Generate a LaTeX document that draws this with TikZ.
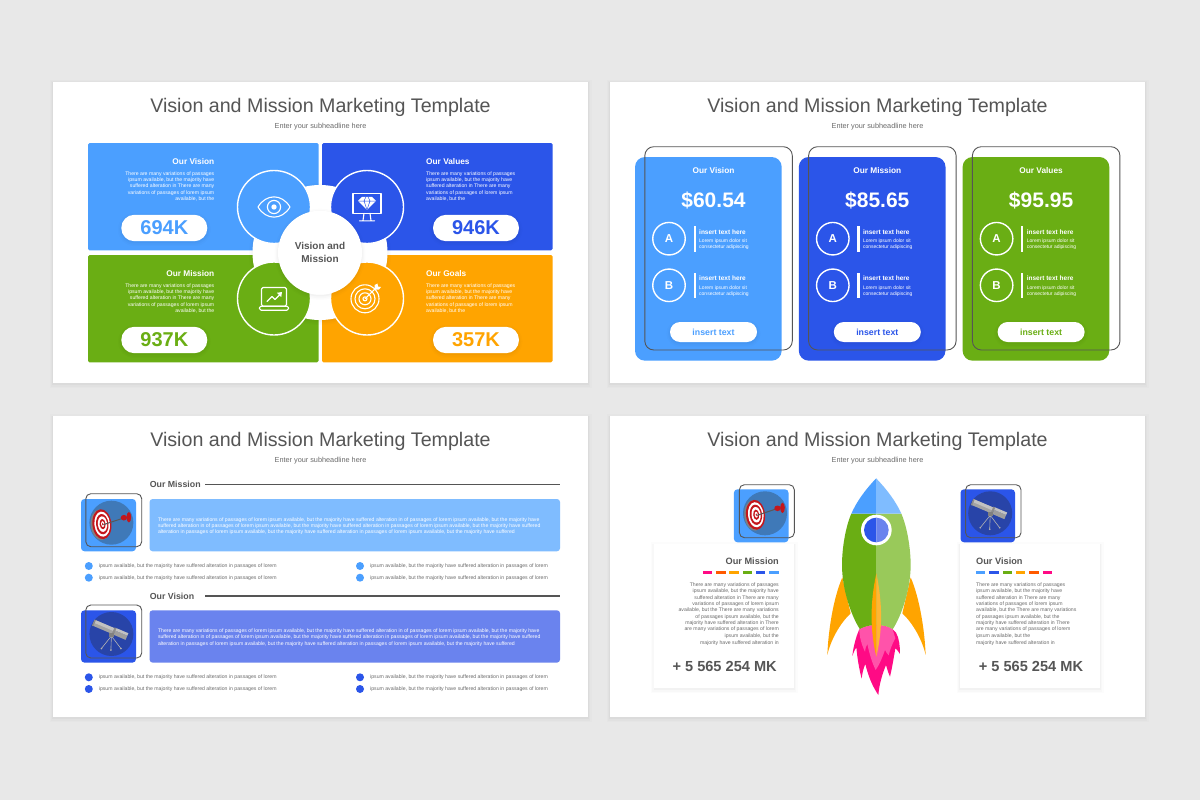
\documentclass[tikz,border=0pt]{standalone}
\usepackage{fontspec}
\setmainfont{Liberation Sans}

\definecolor{bluetile}{HTML}{4B9FFF}
\definecolor{royaltile}{HTML}{2B55E9}
\definecolor{greentile}{HTML}{6AAE14}
\definecolor{orangetile}{HTML}{FFA400}
\definecolor{lightblue}{HTML}{7FBCFF}
\definecolor{lightroyal}{HTML}{6A83EE}
\definecolor{lightgreen}{HTML}{99C95A}
\definecolor{pinkdash}{HTML}{FF0A85}
\definecolor{reddash}{HTML}{FF5A00}
\definecolor{greytext}{HTML}{555555}
\definecolor{bodygrey}{HTML}{6A6A6A}
\definecolor{dartred}{HTML}{C4161C}
\definecolor{dartdisk}{HTML}{3F79B8}
\definecolor{scopedisk}{HTML}{2844A8}

\newcommand{\tilelines}{There are many variations of passages\\ipsum available, but the majority have\\suffered alteration in There are many\\variations of passages of lorem ipsum\\available, but the}
\newcommand{\bandlines}{There are many variations of passages of lorem ipsum available, but the majority have suffered alteration in of passages of lorem ipsum available, but the majority have\\suffered alteration in of passages of lorem ipsum available, but the majority have suffered alteration in passages of lorem ipsum available, but the majority have suffered\\alteration in passages of lorem ipsum available, but the majority have suffered alteration in passages of lorem ipsum available, but the majority have suffered}
\newcommand{\bulletline}{ipsum available, but the majority have suffered alteration in passages of lorem}
\newcommand{\sidelines}{There are many variations of passages\\ipsum available, but the majority have\\suffered alteration in There are many\\variations of passages of lorem ipsum\\available, but the There are many variations\\of passages ipsum available, but the\\majority have suffered alteration in There\\are many variations of passages of lorem\\ipsum available, but the\\[.6pt]majority have suffered alteration in}

\tikzset{
    softshadow/.style={
        preaction={draw=black,draw opacity=.01,line width=7pt,transform canvas={yshift=-1.5pt}},
        preaction={draw=black,draw opacity=.016,line width=4pt,transform canvas={yshift=-1.5pt}},
        preaction={draw=black,draw opacity=.022,line width=1.5pt,transform canvas={yshift=-1pt}}},
    titletext/.style={font=\fontsize{19.65}{24}\selectfont,text=greytext,inner sep=0pt},
    subtext/.style={font=\fontsize{7.3}{9}\selectfont,text=bodygrey,inner sep=0pt},
    headtext/.style={font=\fontsize{8.3}{10}\selectfont\bfseries,text=white,inner sep=0pt},
    tinytext/.style={font=\fontsize{5.15}{6.36}\selectfont,text=white,inner sep=0pt},
    greytiny/.style={tinytext,text=bodygrey},
    numpill/.style={fill=white,rounded corners=13pt,minimum width=86pt,minimum height=26.4pt,
        inner sep=0pt,font=\fontsize{20}{22}\selectfont\bfseries,softshadow},
    textpill/.style={fill=white,rounded corners=10pt,minimum width=87pt,minimum height=20pt,
        inner sep=0pt,font=\fontsize{8.8}{11}\selectfont\bfseries,softshadow},
    letterring/.style={circle,draw=white,line width=1.4pt,minimum size=32.5pt,inner sep=0pt,
        text=white,font=\fontsize{11.5}{13}\selectfont\bfseries},
    outlinebox/.style={draw=greytext,line width=.9pt,rounded corners=9pt},
    iconline/.style={draw=white,line width=1.1pt,line join=round,line cap=round},
    eyeicon/.pic={
        \draw[iconline] (-16,0) .. controls (-8,-13.5) and (8,-13.5) .. (16,0)
            .. controls (8,13.5) and (-8,13.5) .. (-16,0) -- cycle;
        \draw[iconline] (0,0) circle (6.6);
        \fill[white] (0,0) circle (2.7);
    },
    gemicon/.pic={
        \draw[iconline] (-14,-13.7) rectangle (14,6.3);
        \draw[iconline] (-3,6.3) -- (-4,13.5) (3,6.3) -- (4,13.5) (-7.5,13.8) -- (7.5,13.8);
        \fill[white] (-5,-10.2) -- (5,-10.2) -- (9,-6) -- (0,2.8) -- (-9,-6) -- cycle;
        \draw[royaltile,line width=.5pt] (-9,-6) -- (9,-6) (-3,-6) -- (0,2.8) -- (3,-6)
            (-3,-6) -- (-1,-10.2) (3,-6) -- (1,-10.2);
    },
    laptopicon/.pic={
        \draw[iconline,rounded corners=1.5pt] (-12.5,-11) rectangle (12.5,7.7);
        \draw[iconline,rounded corners=1.5pt] (-14.5,7.7) rectangle (14.5,11.7);
        \draw[iconline] (-7,3) -- (-2,-2) -- (1,1) -- (6,-4);
        \fill[white] (8,-6.5) -- (7.2,-1.3) -- (2.8,-5.7) -- cycle;
    },
    ringicon/.pic={
        \draw[iconline] (-2,0.3) circle (14) (-2,0.3) circle (10) (-2,0.3) circle (6);
        \draw[iconline] (-2,0.3) circle (2);
        \draw[iconline] (-2,0.3) -- (9,-10.5);
        \fill[white] (7.5,-9) -- (7.5,-13.5) -- (10.5,-15) -- (11,-12) -- (14,-11.5) -- (12,-9) -- cycle;
    },
    dartpic/.pic={
        \fill[dartdisk] (0,0) circle (22);
        \begin{scope}[shift={(-9.5,1.5)},rotate=6]
            \fill[black!50] (-1.5,.5) ellipse (9.7 and 15.3);
            \fill[dartred] (0,0) ellipse (9.5 and 15);
            \fill[white] (.3,0) ellipse (7.8 and 12.6);
            \fill[dartred] (.4,0) ellipse (6.2 and 10.2);
            \fill[white] (.6,0) ellipse (4.6 and 7.8);
            \fill[dartred] (.7,0) ellipse (3 and 5.2);
            \fill[white] (.8,0) ellipse (1.6 and 3);
            \fill[dartred] (.8,0) ellipse (.7 and 1.3);
        \end{scope}
        \draw[black!65,line width=1pt] (-8,2) -- (11,-4.3);
        \fill[dartred] (12.5,-5) ellipse (3.2 and 2.8);
        \fill[dartred] (17.5,-5.5) ellipse (2.3 and 5.2);
    },
    scopepic/.pic={
        \fill[scopedisk] (0,0) circle (22);
        \draw[black!30,line width=.6pt] (0,2) -- (-10,14.5) (0,2) -- (-.5,16) (0,2) -- (9.5,14.5);
        \fill[black!30] (-10,14.5) circle (.9) (-.5,16) circle (.9) (9.5,14.5) circle (.9);
        \begin{scope}[shift={(-1,-4.5)},rotate=-23]
            \fill[black!36] (-18,-2.8) rectangle (5,3.4);
            \fill[black!24] (-18,-2.8) rectangle (5,.2);
            \fill[black!38] (5,-1) rectangle (18,3.6);
            \fill[black!24] (5,-3.6) rectangle (18,-1);
            \fill[black!45] (-18.5,-3) rectangle (-17,3.6);
            \fill[black!45] (3,-3.6) rectangle (5,3.9);
        \end{scope}
        \fill[black!50] (-2,-1) rectangle (2.5,3);
    },
}

\begin{document}
\begin{tikzpicture}[x=1pt,y=-1pt]
    \useasboundingbox (0,0) rectangle (1200,800);
    \fill[black!9] (0,0) rectangle (1200,800);

    % the four slides
    \foreach \px/\py/\pid in {53/82/a,610/82/b,53/416/c,610/416/d} {
        \fill[white,softshadow] (\px,\py) rectangle ++(535,301);
        \node[titletext] (title\pid) at (\px+267.5,\py+25.5) {Vision and Mission Marketing Template};
        \node[subtext] (sub\pid) at (\px+267.5,\py+44.3) {Enter your subheadline here};
    }

    % slide a
    \foreach \tx/\ty/\col/\tid in {88/143/bluetile/v,322/143/royaltile/u,88/255/greentile/m,322/255/orangetile/g}
        \fill[\col,rounded corners=1.5pt] (\tx,\ty) rectangle ++(230.5,107.3);
    \foreach \ty/\col/\head/\num/\tid in {143/bluetile/Our Vision/694K/v,255/greentile/Our Mission/937K/m} {
        \node[headtext,anchor=east] (head\tid) at (214.5,\ty+18.3) {\head};
        \node[tinytext,align=right,anchor=north east] (body\tid) at (214.5,\ty+28.2) {\tilelines};
        \node[numpill,text=\col] (num\tid) at (164.3,\ty+85) {\num};
    }
    \foreach \ty/\col/\head/\num/\tid in {143/royaltile/Our Values/946K/u,255/orangetile/Our Goals/357K/g} {
        \node[headtext,anchor=west] (head\tid) at (426,\ty+18.3) {\head};
        \node[tinytext,align=left,anchor=north west] (body\tid) at (426,\ty+28.2) {\tilelines};
        \node[numpill,text=\col] (num\tid) at (476,\ty+85) {\num};
    }
    \fill[white,softshadow] (320,252.5) circle (67.5);
    \foreach \cx/\cy/\col/\icon in {274/207/bluetile/eyeicon,367/207/royaltile/gemicon,
        274/298.5/greentile/laptopicon,367/298.5/orangetile/ringicon} {
        \draw[fill=\col,draw=white,line width=1.4pt] (\cx,\cy) circle (36.5);
        \pic at (\cx,\cy) {\icon};
    }
    \node[circle,fill=white,minimum size=84pt,inner sep=0pt,softshadow,align=center,text=greytext,
        font=\fontsize{10}{13}\selectfont\bfseries] (centre) at (320,252.7) {Vision and\\Mission};

    % slide b
    \foreach \sx/\cid/\col/\head/\price in {0/a/bluetile/Our Vision/\$60.54,
        163.8/b/royaltile/Our Mission/\$85.65,327.6/c/greentile/Our Values/\$95.95} {
        \begin{scope}[shift={(\sx,0)}]
            \fill[\col,rounded corners=10pt] (635,157) rectangle (781.7,360.7);
            \node[headtext] (cardhead\cid) at (713.5,171) {\head};
            \node[font=\fontsize{21}{23}\selectfont\bfseries,text=white,inner sep=0pt] (price\cid) at (713.5,200) {\price};
            \foreach \ry/\letter in {238.7/A,285.3/B} {
                \node[letterring] (ring\cid\letter) at (669,\ry) {\letter};
                \fill[white] (693.6,\ry-12.8) rectangle (695.7,\ry+12.8);
                \node[font=\fontsize{6.5}{8}\selectfont\bfseries,text=white,inner sep=0pt,anchor=west]
                    (ins\cid\letter) at (699,\ry-6.7) {insert text here};
                \node[font=\fontsize{5}{6.1}\selectfont,text=white,inner sep=0pt,anchor=north west,align=left]
                    (lor\cid\letter) at (699,\ry+.2) {Lorem ipsum dolor sit\\consectetur adipiscing};
            }
            \node[textpill,text=\col] (pill\cid) at (713.5,332) {insert text};
            \draw[outlinebox] (644.8,146.7) rectangle (792.3,350);
        \end{scope}
    }

    % slide c
    \foreach \gy/\gid/\col/\light/\head/\icon in {0/m/bluetile/lightblue/Our Mission/dartpic,
        111.3/v/royaltile/lightroyal/Our Vision/scopepic} {
        \begin{scope}[shift={(0,\gy)}]
            \node[font=\fontsize{8.8}{10}\selectfont\bfseries,text=greytext,inner sep=0pt,anchor=west]
                (bandhead\gid) at (149.6,484.7) {\head};
            \draw[greytext,line width=1.1pt] (205,484.7) -- (560,484.7);
            \fill[\col,rounded corners=3.5pt] (81,499) rectangle (136,551.3);
            \fill[\light,rounded corners=3pt] (149.6,499) rectangle (560,551.3);
            \pic at (111.4,522.7) {\icon};
            \draw[outlinebox,rounded corners=5pt] (85.8,493.7) rectangle (141.7,546.7);
            \node[tinytext,align=left,anchor=north west] (band\gid) at (157.8,517.2) {\bandlines};
            \foreach \dy/\did in {566/a,577.7/b} {
                \fill[\col] (88.8,\dy) circle (4);
                \node[greytiny,anchor=west] (la\gid\did) at (98.7,\dy) {\bulletline};
                \fill[\col] (360,\dy) circle (4);
                \node[greytiny,anchor=west] (lb\gid\did) at (370,\dy) {\bulletline};
            }
        \end{scope}
    }

    % slide d
    \fill[white,softshadow] (654.4,544) rectangle (794,688);
    \fill[white,softshadow] (960,544) rectangle (1100,688);
    \fill[bluetile,rounded corners=3.5pt] (733.9,489.3) rectangle (788.5,542.3);
    \pic at (765,513.3) {dartpic};
    \draw[outlinebox,rounded corners=5pt] (739.4,484.7) rectangle (794.3,537.7);
    \fill[royaltile,rounded corners=3.5pt] (960.5,489.3) rectangle (1015,542.3);
    \pic at (990.2,513.3) {scopepic};
    \draw[outlinebox,rounded corners=5pt] (965.6,484.7) rectangle (1021,537.7);

    \node[font=\fontsize{9.2}{11}\selectfont\bfseries,text=greytext,inner sep=0pt,anchor=east] (sidem) at (779,561.3) {Our Mission};
    \node[font=\fontsize{9.2}{11}\selectfont\bfseries,text=greytext,inner sep=0pt,anchor=west] (sidev) at (976,561.3) {Our Vision};
    \foreach \k/\col in {0/pinkdash,1/reddash,2/orangetile,3/greentile,4/royaltile,5/bluetile} {
        \fill[\col] (702.8+\k*13.3,570.8) rectangle ++(9.4,3);
        \fill[\col] (1042.5-\k*13.3,570.8) rectangle ++(9.4,3);
    }
    \node[greytiny,align=right,anchor=north east] (bodysidem) at (779,582.4) {\sidelines};
    \node[greytiny,align=left,anchor=north west] (bodysidev) at (976,582.4) {\sidelines};
    \node[font=\fontsize{14.6}{16}\selectfont\bfseries,text=greytext,inner sep=0pt,anchor=east] (phonem) at (777,666.7) {+ 5 565 254 MK};
    \node[font=\fontsize{14.6}{16}\selectfont\bfseries,text=greytext,inner sep=0pt,anchor=west] (phonev) at (978.6,666.7) {+ 5 565 254 MK};

    % rocket
    \begin{scope}[shift={(810,470)},x=.3333pt,y=-.3333pt]
        \fill[orangetile] (97,322) .. controls (70,385) and (55,480) .. (52,555)
            .. controls (62,510) and (90,460) .. (122,430) -- cycle;
        \fill[orangetile] (302,322) .. controls (329,385) and (344,480) .. (347,555)
            .. controls (337,510) and (309,460) .. (277,430) -- cycle;
        \fill[reddash] (150,480) .. controls (175,460) and (225,460) .. (248,480) -- cycle;
        \fill[greentile] (198.5,131) -- (124,131) .. controls (105,175) and (96,240) .. (96,285)
            .. controls (96,360) and (125,440) .. (150,478) .. controls (165,468) and (185,465) .. (198.5,465) -- cycle;
        \fill[lightgreen] (198.5,131) -- (274,131) .. controls (293,175) and (302,240) .. (302,285)
            .. controls (302,360) and (273,440) .. (248,478) .. controls (233,468) and (213,465) .. (198.5,465) -- cycle;
        \fill[bluetile] (198.5,25) .. controls (165,60) and (140,95) .. (124,131) -- (198.5,131) -- cycle;
        \fill[lightblue] (198.5,25) .. controls (232,60) and (258,95) .. (274,131) -- (198.5,131) -- cycle;
        \fill[white] (199,180) circle (46);
        \fill[royaltile] (199,217) arc (90:270:37) -- cycle;
        \fill[lightroyal] (199,217) arc (90:-90:37) -- cycle;
        \fill[pinkdash] (148,478) .. controls (138,500) and (130,530) .. (127,558)
            .. controls (130,548) and (134,540) .. (139,532)
            .. controls (142,565) and (148,600) .. (155,626)
            .. controls (157,610) and (160,595) .. (166,582)
            .. controls (175,620) and (188,650) .. (205,675)
            .. controls (208,640) and (218,610) .. (228,585)
            .. controls (231,595) and (235,610) .. (240,620)
            .. controls (246,595) and (251,565) .. (256,535)
            .. controls (260,538) and (266,545) .. (270,552)
            .. controls (270,530) and (268,505) .. (258,488)
            -- (248,478) -- cycle;
        \fill[pinkdash!70!white] (148,478) .. controls (148,500) and (155,525) .. (165,545)
            .. controls (166,535) and (168,528) .. (172,522)
            .. controls (178,550) and (186,578) .. (197,600)
            .. controls (208,585) and (218,560) .. (225,540)
            .. controls (228,546) and (232,552) .. (236,556)
            .. controls (240,540) and (245,525) .. (256,505)
            -- (248,478)
            .. controls (225,462) and (175,462) .. (148,478) -- cycle;
        \fill[orangetile] (199,310) .. controls (180,400) and (180,480) .. (199,560) -- cycle;
        \fill[orangetile!80!white] (199,310) .. controls (218,400) and (218,480) .. (199,560) -- cycle;
    \end{scope}
\end{tikzpicture}
\end{document}
